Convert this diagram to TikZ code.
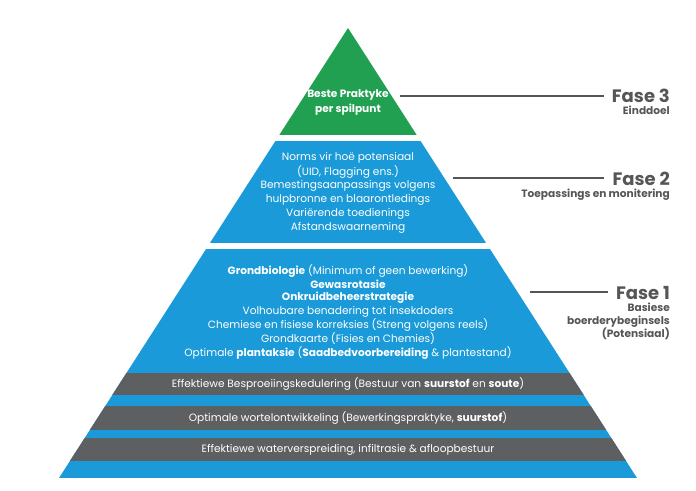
\documentclass[tikz,border=0pt]{standalone}
\usepackage{fontspec}
\setmainfont{Poppins}
\begin{document}
\definecolor{pgreen}{HTML}{22A052}
\definecolor{pblue}{HTML}{1A9AD8}
\definecolor{pgrey}{HTML}{5E5F61}
\definecolor{ptext}{HTML}{555658}
\begin{tikzpicture}[x=1pt,y=-1pt,
  t/.style={text=white,font=\fontsize{10.6}{12}\selectfont,inner sep=0pt},
  b/.style={t,font=\fontsize{10.6}{12}\selectfont\bfseries},
  fase/.style={text=ptext,font=\fontsize{18}{19}\selectfont\bfseries,anchor=east,inner sep=0pt},
  sub/.style={text=ptext,font=\fontsize{10.6}{12.5}\selectfont\bfseries,anchor=north east,align=right,inner sep=0pt},
  lin/.style={ptext,line width=1.2pt}]
\useasboundingbox (0,0) rectangle (696,490);
\begin{scope}
\clip (348,28) -- (637,478) -- (59,478) -- cycle;
\fill[pgreen] (0,0) rectangle (696,135);
\fill[pblue] (0,141) rectangle (696,243);
\fill[pblue] (0,249) rectangle (696,478);
\fill[pgrey] (0,373) rectangle (696,395);
\fill[pgrey] (0,406) rectangle (696,430);
\fill[pgrey] (0,438) rectangle (696,461);
\end{scope}
\node[b] (g1) at (348,95) {Beste Praktyke};
\node[b] (g2) at (348,110) {per spilpunt};
\node[t] (a1) at (348,158) {Norms vir hoë potensiaal};
\node[t] (a2) at (348,172) {(UID, Flagging ens.)};
\node[t] (a3) at (348,186) {Bemestingsaanpassings volgens};
\node[t] (a4) at (348,200) {hulpbronne en blaarontledings};
\node[t] (a5) at (348,214) {Variërende toedienings};
\node[t] (a6) at (348,228) {Afstandswaarneming};
\node[t] (c1) at (348,271) {\textbf{Grondbiologie} (Minimum of geen bewerking)};
\node[b] (c2) at (348,284) {Gewasrotasie};
\node[b] (c3) at (348,298) {Onkruidbeheerstrategie};
\node[t] (c4) at (348,312) {Volhoubare benadering tot  insekdoders};
\node[t] (c5) at (348,325) {Chemiese en fisiese korreksies (Streng volgens reels)};
\node[t] (c6) at (348,339) {Grondkaarte (Fisies en Chemies)};
\node[t] (c7) at (348,353) {Optimale \textbf{plantaksie} (\textbf{Saadbedvoorbereiding} \& plantestand)};
\node[t] (d1) at (348,384) {Effektiewe Besproeiingskedulering (Bestuur van \textbf{suurstof} en \textbf{soute})};
\node[t] (d2) at (348,418) {Optimale wortelontwikkeling (Bewerkingspraktyke, \textbf{suurstof})};
\node[t] (d3) at (348,450) {Effektiewe waterverspreiding, infiltrasie \& afloopbestuur};
\node[fase] (f3) at (670,96) {Fase 3};
\node[sub] (s3) at (670,106) {Einddoel};
\node[fase] (f2) at (670,179) {Fase 2};
\node[sub] (s2) at (670,189) {Toepassings en monitering};
\node[fase] (f1) at (670,293) {Fase 1};
\node[sub] (s1) at (670,303) {Basiese\\boerderybeginsels\\(Potensiaal)};
\coordinate (l3) at (400,96);
\coordinate (l2) at (453,178);
\coordinate (l1) at (530,292);
\draw[lin] (l3) -- ([xshift=-8pt]f3.west |- l3);
\draw[lin] (l2) -- ([xshift=-8pt]f2.west |- l2);
\draw[lin] (l1) -- ([xshift=-8pt]f1.west |- l1);
\end{tikzpicture}
\end{document}
